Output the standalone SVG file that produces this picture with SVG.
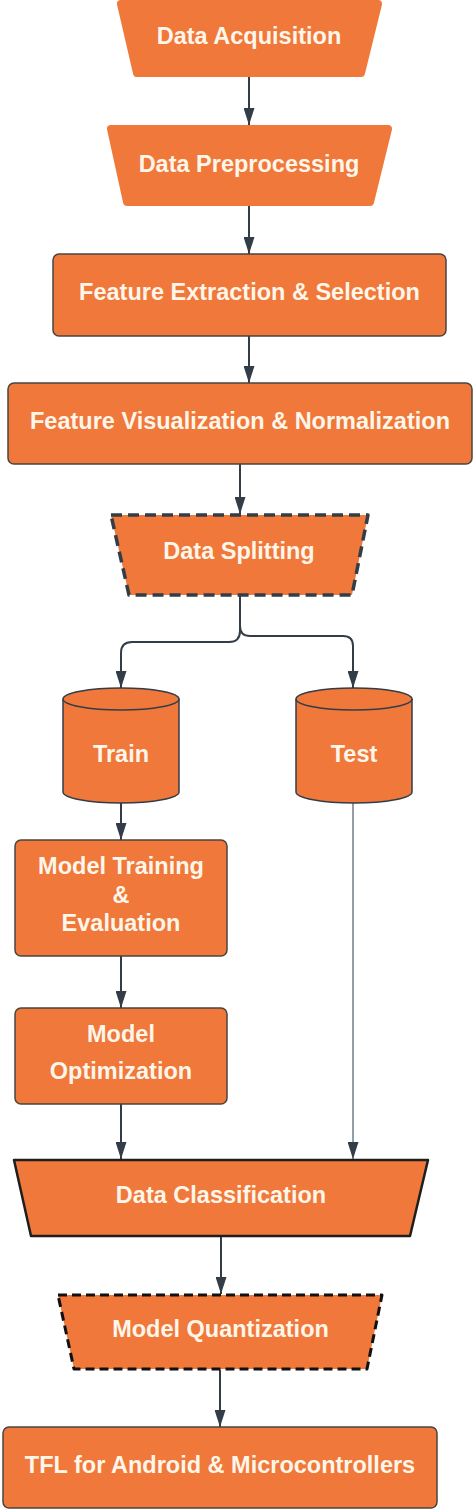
<svg xmlns="http://www.w3.org/2000/svg" width="474" height="1510" viewBox="0 0 474 1510">
<defs>
<marker id="arr" markerUnits="userSpaceOnUse" markerWidth="17" markerHeight="11" refX="17" refY="5.5" orient="auto" viewBox="0 0 17 11">
<path d="M0,0 L17,5.5 L0,11 Z" fill="#333d47"/>
</marker>
<style>
.t{font-family:"Liberation Sans",Arial,sans-serif;font-weight:bold;font-size:23.5px;fill:#fff6ea;text-anchor:middle}
.bx{fill:#f0783a;stroke:#4a4440;stroke-width:1.5}
.c{fill:none;stroke:#333d47;stroke-width:2}
.g{fill:none;stroke:#737c86;stroke-width:1.5}
</style>
</defs>
<rect width="474" height="1510" fill="#ffffff"/>
<g id="connectors">
<path class="c" d="M249,77 V125" marker-end="url(#arr)"/>
<path class="c" d="M249,206 V254" marker-end="url(#arr)"/>
<path class="c" d="M249,336 V383" marker-end="url(#arr)"/>
<path class="c" d="M240,464 V514" marker-end="url(#arr)"/>
<path class="c" d="M240,596 V631 Q240,642 229,642 H132 Q121,642 121,653 V688" marker-end="url(#arr)"/>
<path class="c" d="M240,596 V626 Q240,636 250,636 H343 Q353,636 353,646 V688" marker-end="url(#arr)"/>
<path class="c" d="M121,803 V840" marker-end="url(#arr)"/>
<path class="c" d="M121,956 V1008" marker-end="url(#arr)"/>
<path class="c" d="M121,1104 V1159" marker-end="url(#arr)"/>
<path class="g" d="M353,803 V1159" marker-end="url(#arr)"/>
<path class="c" d="M221,1237 V1294" marker-end="url(#arr)"/>
<path class="c" d="M220,1370 V1427" marker-end="url(#arr)"/>
</g>
<g id="data-acquisition">
<polygon points="121,4 378,4 361,73 137,73" fill="#f0783a" stroke="#f0783a" stroke-width="8" stroke-linejoin="round"/>
<text class="t" x="249" y="44">Data Acquisition</text>
</g>
<g id="data-preprocessing">
<polygon points="111,129 388,129 370,202 127,202" fill="#f0783a" stroke="#f0783a" stroke-width="8" stroke-linejoin="round"/>
<text class="t" x="249" y="172">Data Preprocessing</text>
</g>
<g id="feature-extraction">
<rect class="bx" x="53" y="254" width="393" height="82" rx="6"/>
<text class="t" x="249.5" y="300">Feature Extraction &amp; Selection</text>
</g>
<g id="feature-visualization">
<rect class="bx" x="8" y="383" width="464" height="81" rx="6"/>
<text class="t" x="240" y="429">Feature Visualization &amp; Normalization</text>
</g>
<g id="data-splitting">
<polygon points="111,515 368,515 352,595 129,595" fill="#f0783a" stroke="#333d47" stroke-width="3.5" stroke-linejoin="round" stroke-dasharray="11 6"/>
<text class="t" x="239" y="559">Data Splitting</text>
</g>
<g id="train">
<path d="M63,699 A58,11 0 0 1 179,699 V792 A58,11 0 0 1 63,792 Z" fill="#f0783a" stroke="#333d47" stroke-width="1.5"/>
<path d="M63,699 A58,11 0 0 0 179,699" fill="none" stroke="#333d47" stroke-width="1.5"/>
<text class="t" x="121" y="762">Train</text>
</g>
<g id="test">
<path d="M296,699 A58,11 0 0 1 412,699 V792 A58,11 0 0 1 296,792 Z" fill="#f0783a" stroke="#333d47" stroke-width="1.5"/>
<path d="M296,699 A58,11 0 0 0 412,699" fill="none" stroke="#333d47" stroke-width="1.5"/>
<text class="t" x="354" y="762">Test</text>
</g>
<g id="model-training">
<rect class="bx" x="15" y="840" width="212" height="116" rx="6"/>
<text class="t" x="121" y="874">Model Training</text>
<text class="t" x="121" y="903">&amp;</text>
<text class="t" x="121" y="931">Evaluation</text>
</g>
<g id="model-optimization">
<rect class="bx" x="15" y="1008" width="212" height="96" rx="6"/>
<text class="t" x="121" y="1042">Model</text>
<text class="t" x="121" y="1079">Optimization</text>
</g>
<g id="data-classification">
<polygon points="14,1160 428,1160 410,1236 31,1236" fill="#f0783a" stroke="#1e1e1e" stroke-width="2.5" stroke-linejoin="round"/>
<text class="t" x="221" y="1203">Data Classification</text>
</g>
<g id="model-quantization">
<polygon points="58,1295 382,1295 367,1369 74,1369" fill="#f0783a" stroke="#111111" stroke-width="3" stroke-linejoin="round" stroke-dasharray="9 5"/>
<text class="t" x="220.5" y="1337">Model Quantization</text>
</g>
<g id="tfl">
<rect class="bx" x="3" y="1427" width="434" height="81" rx="6"/>
<text class="t" x="220" y="1473">TFL for Android &amp; Microcontrollers</text>
</g>
</svg>
